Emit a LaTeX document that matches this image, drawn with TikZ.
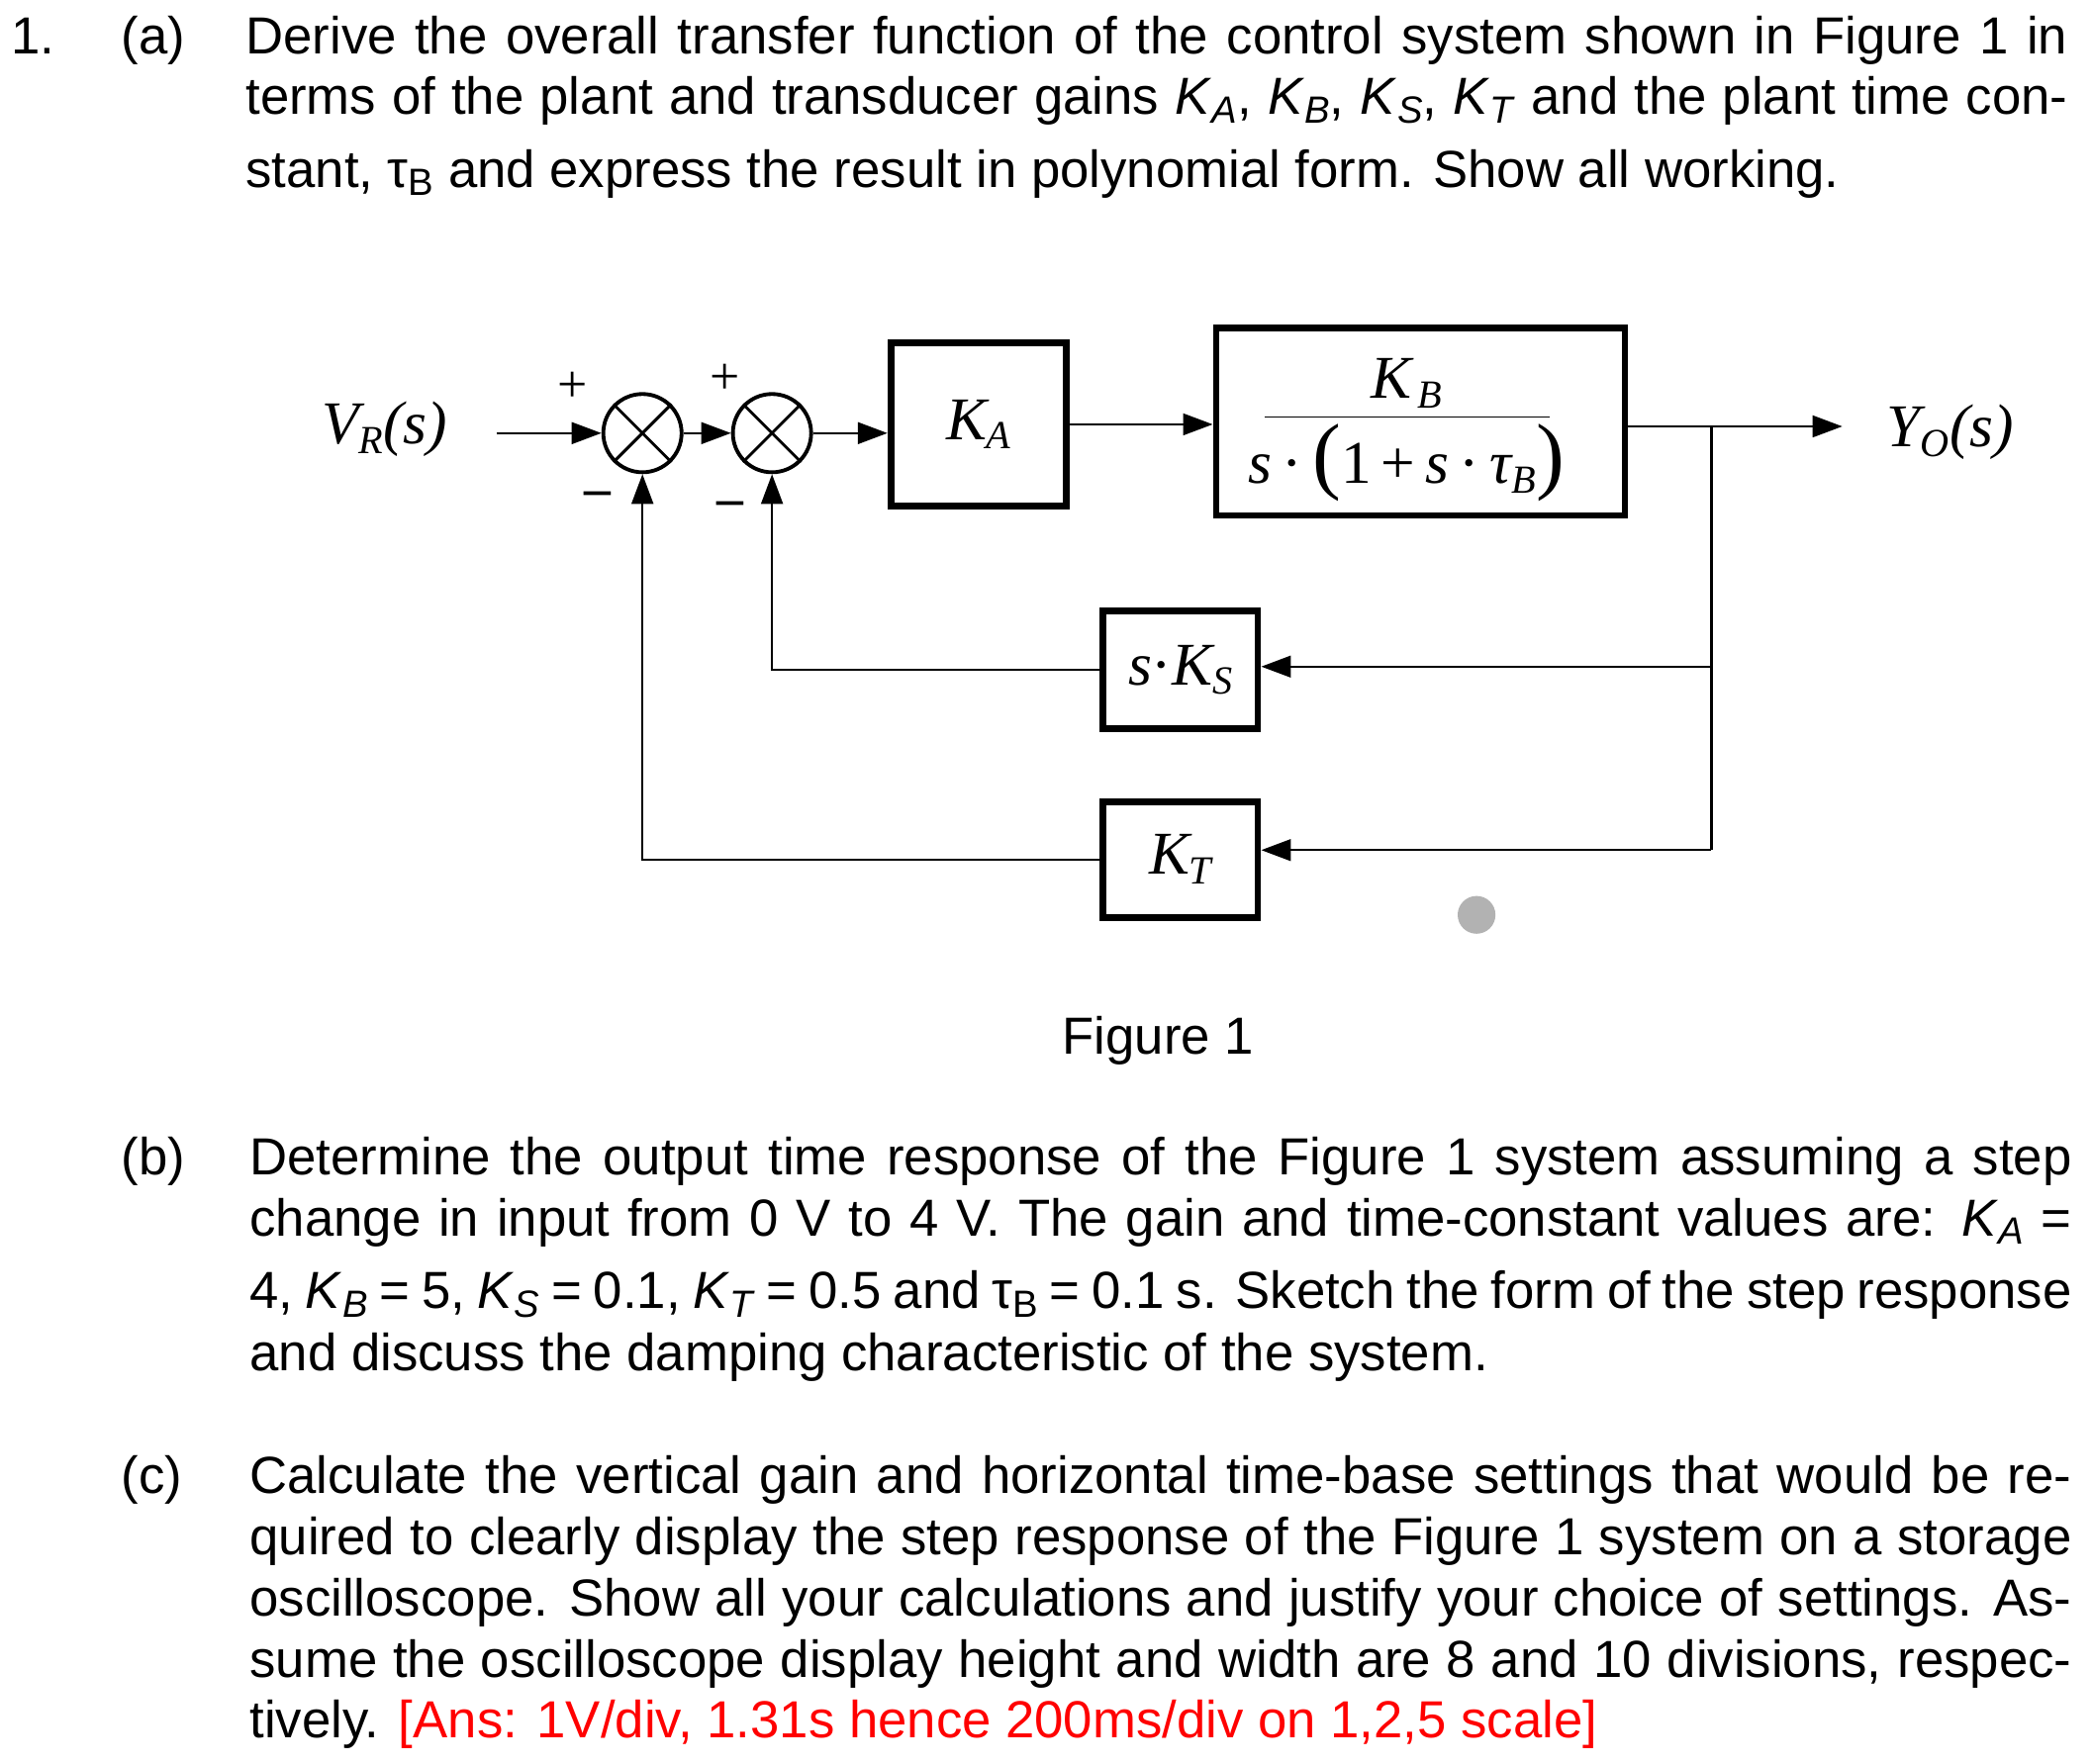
\documentclass[tikz,border=0pt]{standalone}
\usepackage{fontspec}
\setmainfont{Liberation Sans}
\newfontfamily\tms{Liberation Serif}
\usetikzlibrary{arrows.meta,calc}
\newcommand{\txs}[1]{\raisebox{-0.3ex}{\fontsize{40}{40}\selectfont #1}}
\newcommand{\tk}[1]{\textit{K}\txs{\textit{#1}}}
\newcommand{\dsb}[1]{\raisebox{-0.35ex}{\fontsize{42}{42}\selectfont #1}}
\newcommand{\bigp}[1]{{\fontsize{90}{90}\selectfont\upshape #1}}
\begin{document}
\begin{tikzpicture}[x=0.05cm,y=-0.05cm,
  txt/.style={anchor=base west,inner sep=0,font=\fontsize{55}{62}\selectfont},
  blk/.style={draw,line width=7pt,inner sep=0},
  sum/.style={draw,circle,line width=4pt,minimum size=2.9cm,inner sep=0},
  con/.style={line width=2.5pt},
  arr/.style={line width=2.5pt,-{Triangle[length=1.1cm,width=0.8cm]}},
  dia/.style={font=\tms\fontsize{64}{64}\selectfont\itshape},
  sg/.style={font=\tms\fontsize{56}{56}\selectfont}]
\useasboundingbox (0,0) rectangle (1550,1307);
\newcommand{\jl}[3]{\node[txt] at (#1,#2) {\makebox[67.5cm][s]{#3}};}
% (a)
\node[txt] at (8,40) {1.};
\node[txt] at (90,40) {(a)};
\jl{182}{40}{Derive the overall transfer function of the control system shown in Figure 1 in}
\jl{182}{85}{terms of the plant and transducer gains \tk{A}, \tk{B}, \tk{S}, \tk{T} and the plant time con-}
\node[txt] at (182,139) {stant, τ\txs{B} and express the result in polynomial form. Show all working.};
% diagram
\node[sum] (s1) at (476,321) {};
\node[sum] (s2) at (572,321) {};
\foreach \s in {s1,s2}{\draw[line width=3pt] (\s.north west)--(\s.south east) (\s.north east)--(\s.south west);}
\node[blk,minimum width=6.5cm,minimum height=6.05cm,dia] (ka) at (725,314.5) {K\dsb{A}};
\node[blk,minimum width=15.15cm,minimum height=6.95cm] (pl) at (1052.5,312.5) {};
\node[dia] at (1042,284) {K\kern0.1em\dsb{B}};
\draw[line width=1.5pt] (937,309)--(1148,309);
\node[dia] at (1042,343) {s\,{\upshape·}\,\bigp{(}{\upshape 1}\,{\upshape+}\,s\,{\upshape·}\,τ\dsb{B}\bigp{)}};
\node[blk,minimum width=5.75cm,minimum height=4.35cm,dia] (sk) at (874.5,496.5) {s{\upshape·}K\dsb{S}};
\node[blk,minimum width=5.75cm,minimum height=4.3cm,dia] (kt) at (874.5,637) {K\dsb{T}};
\node[dia] (vr) at (285,318) {V\dsb{R}(s)};
\node[dia] (yo) at (1445,320) {Y\dsb{O}(s)};
\coordinate (in) at (368,321);
\coordinate (out) at (1365,316);
\coordinate (br) at (1268,316);
\coordinate (b1) at (1268,494);
\coordinate (b2) at (1268,630);
\draw[arr] (in) -- (s1.west);
\draw[arr] (s1.east) -- (s2.west);
\draw[arr] (s2.east) -- (s2.east -| ka.west);
\draw[arr] (ka.east) -- (ka.east -| pl.west);
\draw[arr] (pl.east |- out) -- (out);
\draw[con] (br) -- (b2);
\draw[arr] (b1) -- (b1 -| sk.east);
\draw[arr] (b2) -- (b2 -| kt.east);
\draw[arr] (sk.west) -| (s2.south);
\draw[arr] (kt.west) -| (s1.south);
\node[sg] at (424,287) {+};
\node[sg] at (537,281) {+};
\node[sg] at (443,370) {\textbf{–}};
\node[sg] at (541,377) {\textbf{–}};
\fill[gray!60] (1094,678) circle (0.7cm);
\node[txt,anchor=base] at (858,781) {Figure 1};
% (b)
\node[txt] at (90,871) {(b)};
\jl{185}{871}{Determine the output time response of the Figure 1 system assuming a step}
\jl{185}{916}{change in input from 0 V to 4 V. The gain and time-constant values are: \tk{A} =}
\jl{185}{970}{4, \tk{B} = 5, \tk{S} = 0.1, \tk{T} = 0.5 and τ\txs{B} = 0.1 s. Sketch the form of the step response}
\node[txt] at (185,1016) {and discuss the damping characteristic of the system.};
% (c)
\node[txt] at (90,1107) {(c)};
\jl{185}{1107}{Calculate the vertical gain and horizontal time-base settings that would be re-}
\jl{185}{1152}{quired to clearly display the step response of the Figure 1 system on a storage}
\jl{185}{1198}{oscilloscope. Show all your calculations and justify your choice of settings. As-}
\jl{185}{1243}{sume the oscilloscope display height and width are 8 and 10 divisions, respec-}
\node[txt] at (185,1288) {tively. \textcolor{red}{[Ans: 1V/div, 1.31s hence 200ms/div on 1,2,5 scale]}};
\end{tikzpicture}
\end{document}
